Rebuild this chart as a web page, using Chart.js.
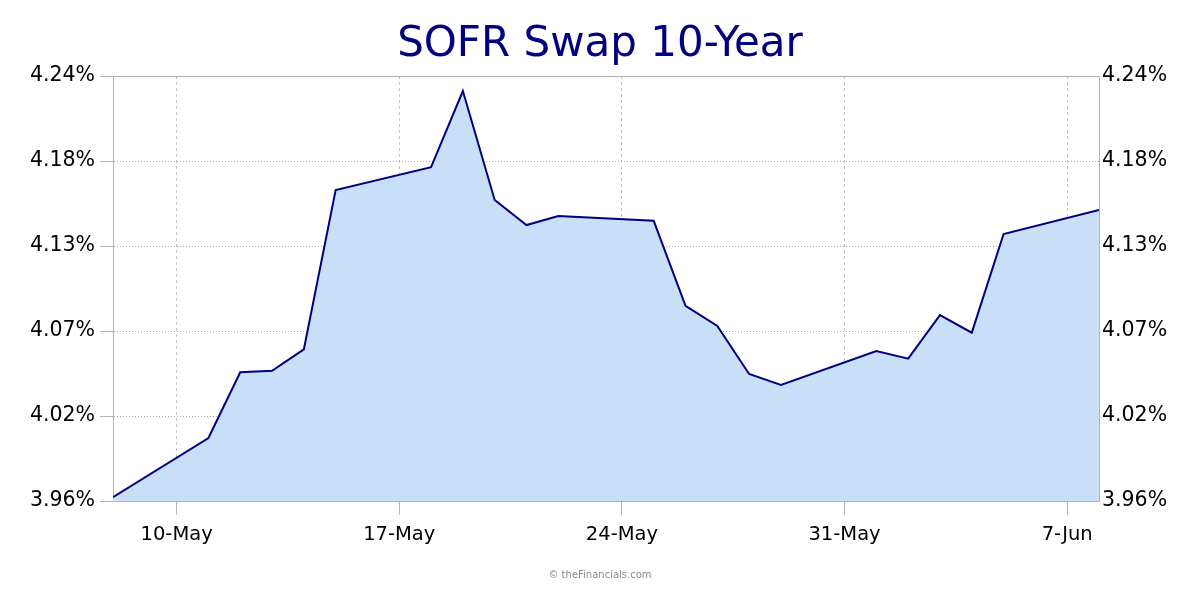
<!DOCTYPE html>
<html>
<head>
<meta charset="utf-8">
<script src="https://cdn.jsdelivr.net/npm/chart.js@4/dist/chart.umd.min.js"></script>
<style>
  html, body { margin: 0; padding: 0; background: #ffffff; }
  #wrap { width: 1200px; height: 600px; }
</style>
</head>
<body>
<div id="wrap"><canvas id="c" width="1200" height="600"></canvas></div>
<script>
// ---- data ----
const dates = [
  "2025-05-08","2025-05-11","2025-05-12","2025-05-13","2025-05-14","2025-05-15",
  "2025-05-18","2025-05-19","2025-05-20","2025-05-21","2025-05-22",
  "2025-05-25","2025-05-26","2025-05-27","2025-05-28","2025-05-29",
  "2025-06-01","2025-06-02","2025-06-03","2025-06-04","2025-06-05",
  "2025-06-08"
];
const values = [
  3.9626, 4.0015, 4.0448, 4.0458, 4.0599, 4.1649,
  4.1799, 4.2301, 4.1583, 4.1418, 4.1478,
  4.1446, 4.0885, 4.0753, 4.0437, 4.0364,
  4.0588, 4.0538, 4.0825, 4.0709, 4.1359,
  4.1517
];
const xTickDates = ["2025-05-10","2025-05-17","2025-05-24","2025-05-31","2025-06-07"];
const xTickLabels = ["10-May","17-May","24-May","31-May","7-Jun"];
const yTickValues = [3.96, 4.016, 4.072, 4.128, 4.184, 4.24];
const yTickLabels = ["3.96%","4.02%","4.07%","4.13%","4.18%","4.24%"];
const xStartDate = "2025-05-08";
const xEndDate = "2025-06-08";

// ---- helpers ----
const DAY = 86400000;
function dayNum(s) {
  const p = s.split("-").map(Number);
  return Math.round((Date.UTC(p[0], p[1]-1, p[2]) - Date.UTC(2025,4,8)) / DAY);
}
const points = dates.map((d, i) => ({ x: dayNum(d), y: values[i] }));
const xTicks = xTickDates.map(dayNum);

const FONT = "'DejaVu Sans', Verdana, sans-serif";

const framePlugin = {
  id: 'frame',
  afterDatasetsDraw(chart) {
    const { ctx, chartArea: a } = chart;
    ctx.save();
    ctx.strokeStyle = '#b4b4b4';
    ctx.lineWidth = 1;
    ctx.beginPath();
    ctx.moveTo(a.left, a.top + 0.5);
    ctx.lineTo(a.right, a.top + 0.5);
    ctx.stroke();
    ctx.restore();
  }
};

new Chart(document.getElementById('c'), {
  type: 'line',
  data: {
    datasets: [{
      data: points,
      borderColor: '#000080',
      borderWidth: 2,
      backgroundColor: '#c9dff7',
      fill: 'start',
      pointRadius: 0,
      tension: 0
    }]
  },
  options: {
    responsive: false,
    animation: false,
    layout: { padding: { left: 0, right: 0, top: 0, bottom: 0 } },
    plugins: {
      legend: { display: false },
      tooltip: { enabled: false },
      title: {
        display: true,
        text: 'SOFR Swap 10-Year',
        color: '#000080',
        font: { family: FONT, size: 42, weight: 'normal', lineHeight: 1.2 },
        padding: { top: 20, bottom: 5.6 }
      },
      subtitle: {
        display: true,
        position: 'bottom',
        text: '\u00A9 theFinancials.com',
        color: '#8a8a8a',
        font: { family: FONT, size: 10, weight: 'normal', lineHeight: 1.2 },
        padding: { top: 24, bottom: 19 }
      }
    },
    scales: {
      x: {
        type: 'linear',
        position: 'bottom',
        min: dayNum(xStartDate),
        max: dayNum(xEndDate),
        afterBuildTicks(scale) { scale.ticks = xTicks.map(v => ({ value: v })); },
        afterFit(scale) { scale.height = 44; },
        ticks: {
          autoSkip: false,
          maxRotation: 0,
          padding: 8,
          color: '#000000',
          font: { family: FONT, size: 19.5 },
          callback(v) { const i = xTicks.indexOf(v); return i >= 0 ? xTickLabels[i] : ''; }
        },
        grid: {
          color: '#c4c4c4',
          lineWidth: 1,
          drawTicks: true,
          tickLength: 14,
          tickColor: '#b4b4b4',
          tickBorderDash: []
        },
        border: { display: true, color: '#b4b4b4', width: 1, dash: [3, 3] }
      },
      y: {
        type: 'linear',
        position: 'left',
        min: 3.96,
        max: 4.24,
        afterBuildTicks(scale) { scale.ticks = yTickValues.map(v => ({ value: v })); },
        afterFit(scale) { scale.width = 113; },
        ticks: {
          padding: 5,
          color: '#000000',
          font: { family: FONT, size: 20.5 },
          callback(v) {
            const i = yTickValues.findIndex(t => Math.abs(t - v) < 1e-9);
            return i >= 0 ? yTickLabels[i] : '';
          }
        },
        grid: {
          color: '#b0b0b0',
          lineWidth: 1,
          drawTicks: true,
          tickLength: 13,
          tickColor: '#b4b4b4',
          tickBorderDash: []
        },
        border: { display: true, color: '#b4b4b4', width: 1, dash: [1, 2] }
      },
      y2: {
        type: 'linear',
        position: 'right',
        min: 3.96,
        max: 4.24,
        afterBuildTicks(scale) { scale.ticks = yTickValues.map(v => ({ value: v })); },
        afterFit(scale) { scale.width = 101; },
        ticks: {
          padding: 3,
          color: '#000000',
          font: { family: FONT, size: 20.5 },
          callback(v) {
            const i = yTickValues.findIndex(t => Math.abs(t - v) < 1e-9);
            return i >= 0 ? yTickLabels[i] : '';
          }
        },
        grid: { display: false, drawOnChartArea: false, drawTicks: false },
        border: { display: true, color: '#b4b4b4', width: 1 }
      }
    }
  },
  plugins: [framePlugin]
});
</script>
</body>
</html>
